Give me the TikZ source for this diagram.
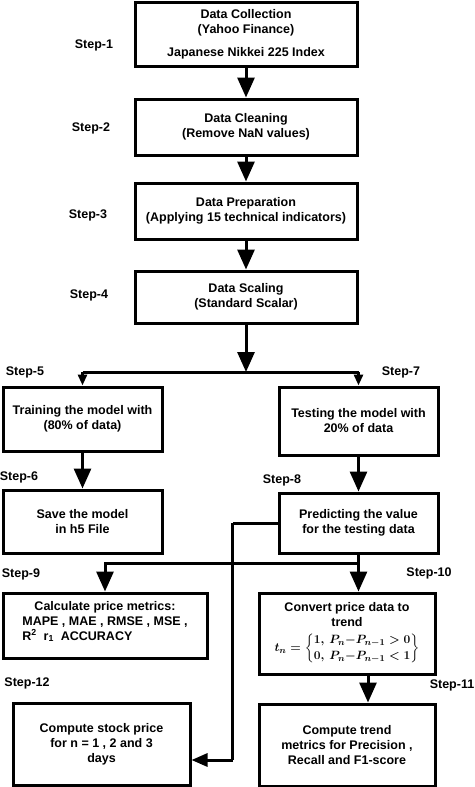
\documentclass[tikz,border=0pt]{standalone}
\usepackage{amsmath}
\usepackage{fontspec}
\setmainfont{Liberation Sans}
\usetikzlibrary{arrows.meta, positioning}

\begin{document}
\begin{tikzpicture}[x=1pt, y=-1pt,
    every node/.style={font=\bfseries\fontsize{12.5}{15}\selectfont},
    box/.style={draw, line width=3pt, align=center, inner sep=2pt},
    steplabel/.style={inner sep=0pt},
    wire/.style={draw, line width=3pt},
    flow/.style={draw, line width=3pt, -{Triangle[width=17pt,length=20pt]}},
    thinflow/.style={draw, line width=3pt, -{Triangle[width=9pt,length=11pt]}},
    sideflow/.style={draw, line width=3pt, -{Triangle[width=13pt,length=16pt]}}]

    \useasboundingbox (0,0) rectangle (474,787);

    \node[box, minimum width=222pt, minimum height=64pt] (collect) at (246,34)
        {Data Collection\\(Yahoo Finance)\\[8pt]Japanese Nikkei 225 Index};
    \node[box, minimum width=222pt, minimum height=56pt] (clean) at (246,127)
        {Data Cleaning\\(Remove NaN values)};
    \node[box, minimum width=222pt, minimum height=56pt] (prep) at (246,211)
        {Data Preparation\\(Applying 15 technical indicators)};
    \node[box, minimum width=222pt, minimum height=52pt] (scale) at (246,297)
        {Data Scaling\\(Standard Scalar)};

    \node[box, minimum width=159pt, minimum height=64pt] (train) at (82.5,419)
        {Training the model with\\(80\% of data)};
    \node[box, minimum width=159pt, minimum height=68pt] (test) at (358.5,421)
        {Testing the model with\\20\% of data};
    \node[box, minimum width=159pt, minimum height=63pt] (save) at (82.5,521.5)
        {Save the model\\in h5 File};
    \node[box, minimum width=159pt, minimum height=60pt] (predict) at (358.5,523)
        {Predicting the value\\for the testing data};

    \node[box, minimum width=204pt, minimum height=65pt] (price) at (105,625.5)
        {\begin{tabular}{@{}l@{}}
         \multicolumn{1}{@{}c@{}}{Calculate price metrics:}\\
         MAPE , MAE , RMSE , MSE ,\\
         R\textsuperscript{2} \ r\textsubscript{1} \ ACCURACY\\[7pt]
         \end{tabular}};
    \node[box, minimum width=176pt, minimum height=81pt] (trend) at (347,633.5)
        {Convert price data to\\trend\\[5pt]
         {\boldmath\setlength\arraycolsep{2.5pt}\renewcommand\arraystretch{1.05}%
          $t_n=\left\{\begin{matrix}1, & P_n{-}P_{n-1}>0\\ 0, & P_n{-}P_{n-1}<1\end{matrix}\right\}$}};
    \node[box, minimum width=177pt, minimum height=82pt] (stock) at (101.5,744)
        {Compute stock price\\for n = 1 , 2 and 3\\days};
    \node[box, minimum width=176pt, minimum height=82pt] (tmetric) at (347,745)
        {Compute trend\\metrics for Precision ,\\Recall and F1-score};

    \node[steplabel] (s1) at (94,45) {Step-1};
    \node[steplabel] (s2) at (91,128) {Step-2};
    \node[steplabel] (s3) at (88,215) {Step-3};
    \node[steplabel] (s4) at (89,295) {Step-4};
    \node[steplabel] (s5) at (25,372) {Step-5};
    \node[steplabel] (s7) at (401,372) {Step-7};
    \node[steplabel] (s6) at (19,477) {Step-6};
    \node[steplabel] (s8) at (282,480) {Step-8};
    \node[steplabel] (s9) at (21,574) {Step-9};
    \node[steplabel] (s10) at (429,573) {Step-10};
    \node[steplabel] (s12) at (27,683) {Step-12};
    \node[steplabel] (s11) at (452,685) {Step-11};

    \coordinate (fork) at (246,372);
    \coordinate (forkl) at (82.5,372);
    \coordinate (forkr) at (358.5,372);
    \coordinate (fork2) at ([yshift=-9pt]predict.south);
    \coordinate (turn) at (232.5,523);
    \coordinate (bend) at (232.5,760);

    \path[flow] (collect) -- (clean);
    \path[flow] (clean) -- (prep);
    \path[flow] (prep) -- (scale);
    \path[flow] (scale) -- (fork);
    \path[wire] (forkl) -- (forkr);
    \path[thinflow] (forkl) -- (train);
    \path[thinflow] (forkr) -- (test);
    \path[flow] (train) -- (save);
    \path[flow] (test) -- (predict);
    \path[wire] (predict) -- (fork2);
    \path[flow] (fork2) -| (price);
    \path[flow] (fork2) -- (fork2 |- trend.north);
    \path[wire] (predict.west) -- (turn);
    \path[wire] (turn) -- (bend);
    \path[sideflow] (bend) -- (bend -| stock.east);
    \path[flow] ([xshift=21pt]trend.south) -- ([xshift=21pt]tmetric.north);

\end{tikzpicture}
\end{document}
